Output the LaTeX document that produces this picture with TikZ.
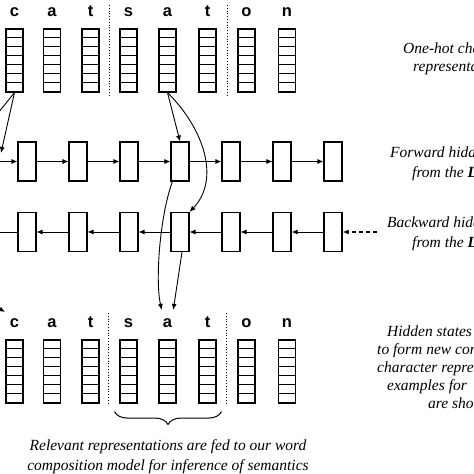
\documentclass[tikz,border=0pt]{standalone}
\usepackage{fontspec}
\setmainfont{Liberation Serif}
\newfontfamily\letrafonte{Liberation Sans}
\usetikzlibrary{arrows.meta,decorations.pathreplacing}

\begin{document}
\begin{tikzpicture}[x=1pt,y=-1pt,>={Latex[length=6pt,width=5pt]}]
\tikzstyle{pilha}=[draw, line width=1.1pt, minimum width=17pt, minimum height=63pt, inner sep=0pt]
\tikzstyle{caixa}=[draw, line width=1.1pt, minimum width=18pt, minimum height=39pt, inner sep=0pt]
\tikzstyle{letra}=[font=\fontsize{16.5}{16}\selectfont\letrafonte\bfseries, inner sep=1pt, anchor=base]
\tikzstyle{seta}=[->, line width=0.9pt]
\tikzstyle{texto}=[font=\fontsize{15.5}{18}\selectfont\itshape, inner sep=0pt, anchor=base west]
\tikzstyle{divisa}=[dotted, line width=0.8pt]
\useasboundingbox (0,0) rectangle (474,474);
\clip (0,0) rectangle (474,474);
 \foreach \x/\l [count=\i from 0] in {14.5/c,52/a,90.5/t,128.5/s,167.5/a,207.5/t,246.5/o,287/n}{
    \node[letra] (lt\i) at (\x,16) {\l};
    \node[pilha] (pt\i) at (\x,60.5) {};
    \node[letra] (lb\i) at (\x,327) {\l};
    \node[pilha] (pb\i) at (\x,371.5) {};
    \foreach \k in {1,...,6}{
       \draw[line width=1pt] ([yshift={-9pt*\k}]pt\i.north west) -- ([yshift={-9pt*\k}]pt\i.north east);
       \draw[line width=1pt] ([yshift={-9pt*\k}]pb\i.north west) -- ([yshift={-9pt*\k}]pb\i.north east);
       }
    }
 \draw[divisa] (109,5) -- (109,95);
 \draw[divisa] (227,5) -- (227,95);
 \draw[divisa] (108,313) -- (108,403);
 \draw[divisa] (226,313) -- (226,403);
 \foreach \i in {0,...,6}{
    \node[caixa] (f\i) at ({27+51*\i},161.5) {};
    \node[caixa] (b\i) at ({27+51*\i},232) {};
    }
 \foreach \i [evaluate=\i as \j using int(\i+1)] in {0,...,5}{
    \draw[seta] (f\i) -- (f\j);
    \draw[seta] (b\j) -- (b\i);
    }
 \coordinate (fin) at (-5,161.5);
 \coordinate (bout) at (-10,232);
 \coordinate (bin) at (377,232);
 \draw[seta] (fin) -- (f0);
 \draw[seta] (b0) -- (bout);
 \draw[seta, line width=1.4pt, dash pattern=on 4pt off 3pt] (bin) -- (b6);
 \draw[seta] (pt4.south) -- (f3.north);
 \draw[seta] (pt4.south) .. controls (205,130) and (220,180) .. (b3.north east);
 \draw[seta] ([xshift=2pt]f3.south west) .. controls (160,215) and (155,280) .. ([yshift=7pt]lb4.north west);
 \draw[seta] ([xshift=2pt]b3.south) -- ([yshift=7pt]lb4.north east);
 \coordinate (ca) at (-10,123);
 \coordinate (cb) at (1,153);
 \draw[line width=0.9pt] (pt0.south) -- (ca);
 \draw[seta] (pt0.south) -- (cb);
 \coordinate (cc) at (-12,302);
 \coordinate (cd) at (5,312);
 \draw[seta] (cc) -- (cd);
 \draw[decorate, decoration={brace, mirror, amplitude=13pt}, line width=1pt]
    ([xshift=-5pt,yshift=-8pt]pb3.south west) -- ([xshift=5pt,yshift=-8pt]pb5.south east);
 \node[texto, anchor=base, align=center, font=\fontsize{15.5}{20}\selectfont\itshape] (legenda) at (168,470)
    {Relevant representations are fed to our word\\composition model for inference of semantics};
 \foreach \x/\y/\t [count=\i] in {403/53/{One-hot cha}, 413/71/{representa},
    390/157/{Forward hidd}, 412/177/{from the \textbf{L}},
    387/227/{Backward hidd}, 412/247/{from the \textbf{L}},
    387/336/{Hidden states}, 377/354/{to form new com}, 377/372/{character repre},
    387/390/{examples for}, 428/408/{are sho}}
    \node[texto] (r\i) at (\x,\y) {\t};
\end{tikzpicture}
\end{document}
